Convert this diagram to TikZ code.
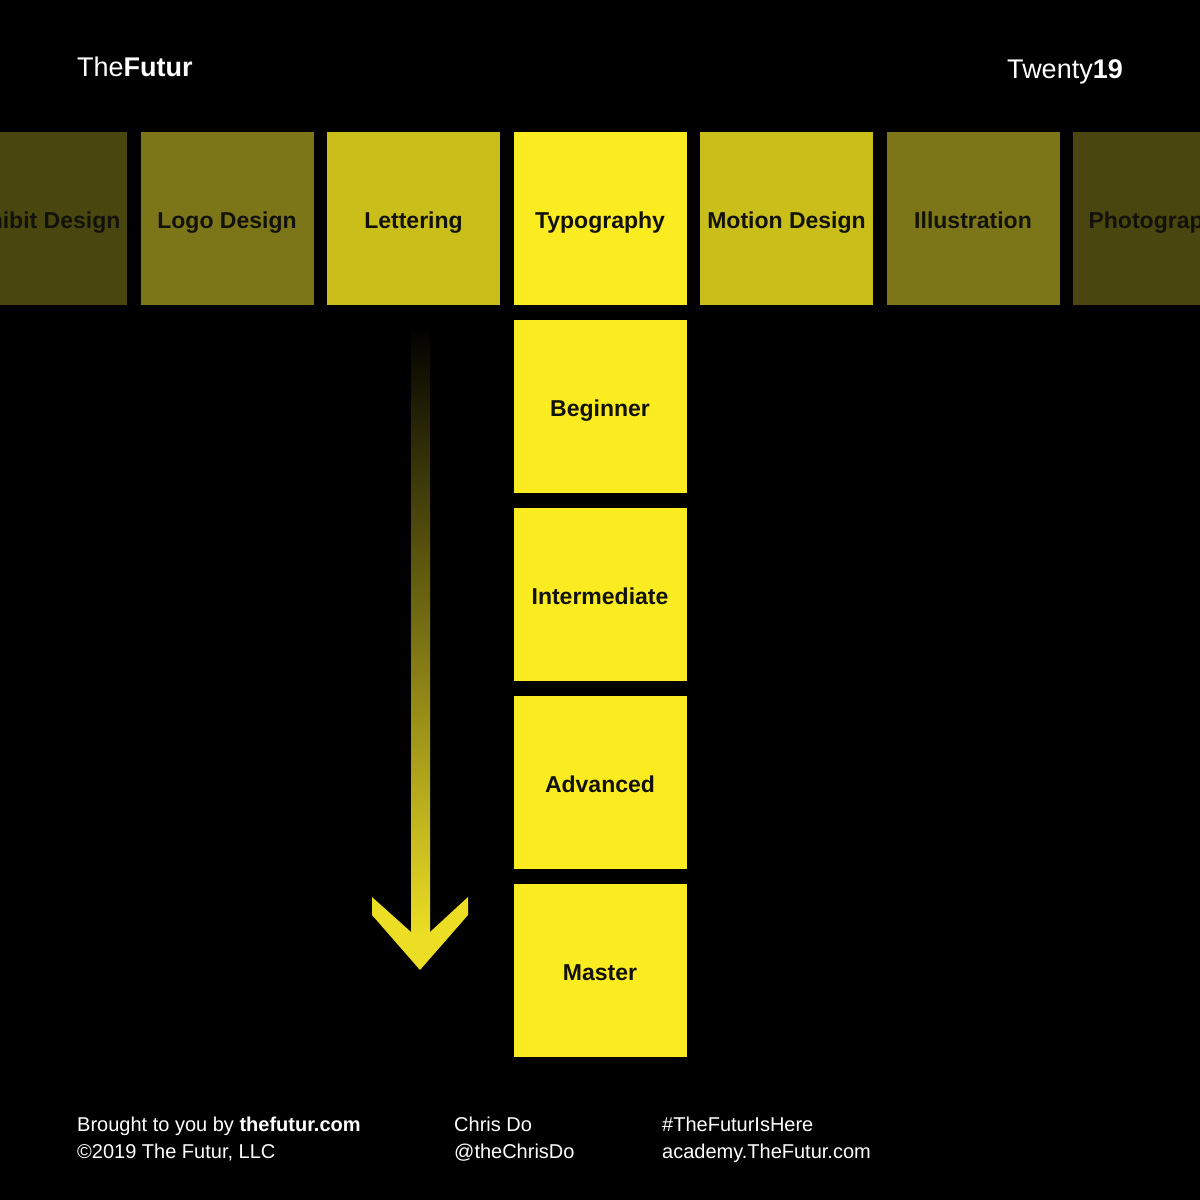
\documentclass[tikz,border=0pt]{standalone}
\usepackage{fontspec}
\setmainfont{Liberation Sans}
\definecolor{ybright}{RGB}{251,236,33}
\definecolor{ymid}{RGB}{201,190,26}
\definecolor{ydim}{RGB}{125,118,25}
\definecolor{ydark}{RGB}{74,70,16}
\definecolor{ink}{RGB}{18,18,10}
\definecolor{arrowy}{RGB}{236,222,36}
\begin{document}
\begin{tikzpicture}[x=1pt,y=-1pt,
  tile/.style={minimum width=173pt,minimum height=173pt,inner sep=0pt,outer sep=0pt,
    text height=24pt,text depth=5pt,
    text=ink,font=\fontsize{23}{27}\selectfont\bfseries},
  foot/.style={anchor=base west,inner sep=0pt,text=white,font=\fontsize{20}{24}\selectfont},
  head/.style={anchor=base west,inner sep=0pt,text=white,font=\fontsize{27}{32}\selectfont}]
\fill[black] (0,0) rectangle (1200,1200);
\useasboundingbox (0,0) rectangle (1200,1200);
\clip (0,0) rectangle (1200,1200);
% header
\node[head] (logo) at (77,76) {The\textbf{Futur}};
\node[head,anchor=base east] (year) at (1123,78) {Twenty\textbf{19}};
% top row
\node[tile,fill=ydark] (exhibit) at (40.5,218.5) {Exhibit Design};
\node[tile,fill=ydim] (logodesign) at (227,218.5) {Logo Design};
\node[tile,fill=ymid] (lettering) at (413.5,218.5) {Lettering};
\node[tile,fill=ybright] (typo) at (600,218.5) {Typography};
\node[tile,fill=ymid] (motion) at (786.5,218.5) {Motion Design};
\node[tile,fill=ydim] (illus) at (973,218.5) {Illustration};
\node[tile,fill=ydark] (photo) at (1159.5,218.5) {Photography};
% column
\node[tile,fill=ybright] (beg) at (600,406.5) {Beginner};
\node[tile,fill=ybright] (inter) at (600,594.5) {Intermediate};
\node[tile,fill=ybright] (adv) at (600,782.5) {Advanced};
\node[tile,fill=ybright] (master) at (600,970.5) {Master};
% arrow
\coordinate (ashaftTop) at (411,325);
\coordinate (ashaftBot) at (430,934);
\shade[top color=black,bottom color=arrowy] (ashaftTop) rectangle (ashaftBot);
\fill[arrowy] (411,932) -- (372,897) -- (372,915) -- (420,970) -- (468,915) -- (468,897) -- (430,932) -- cycle;
% footer
\node[foot] (f1) at (77,1131) {Brought to you by \textbf{thefutur.com}};
\node[foot] (f2) at (77,1158) {©2019 The Futur, LLC};
\node[foot] (f3) at (454,1131) {Chris Do};
\node[foot] (f4) at (454,1158) {@theChrisDo};
\node[foot] (f5) at (662,1131) {\#TheFuturIsHere};
\node[foot] (f6) at (662,1158) {academy.TheFutur.com};
\end{tikzpicture}
\end{document}
